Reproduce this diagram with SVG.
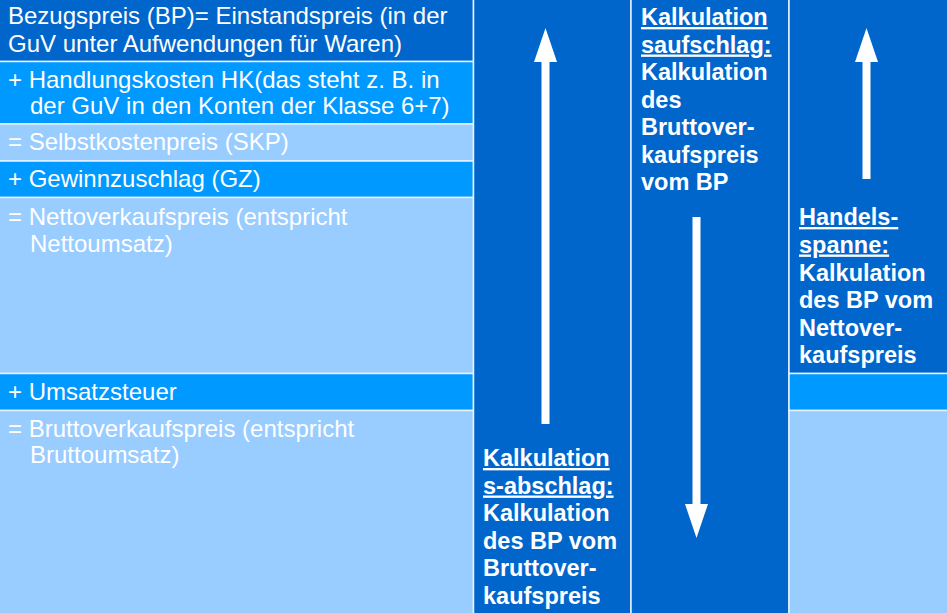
<svg xmlns="http://www.w3.org/2000/svg" width="947" height="613" viewBox="0 0 947 613">
<defs>
<style>
.dark{fill:#0066cc}
.mid{fill:#0099ff}
.light{fill:#99ccff}
.cell{stroke:#e6f2ff;stroke-width:1.5}
.t{font-family:"Liberation Sans",Arial,sans-serif;font-size:24px;fill:#ffffff}
.b{font-family:"Liberation Sans",Arial,sans-serif;font-size:23.5px;font-weight:bold;fill:#ffffff}
.u{text-decoration:underline}
.arrow{stroke:#ffffff;stroke-width:8;fill:none;marker-end:url(#head)}
</style>
<marker id="head" markerUnits="userSpaceOnUse" markerWidth="34" markerHeight="24" refX="0" refY="11.5" orient="auto">
<path d="M0,0 L34,11.5 L0,23 z" fill="#ffffff"/>
</marker>
</defs>
<rect x="0" y="0" width="947" height="613" fill="#0066cc"/>
<g id="bp">
<rect class="dark cell" x="-2" y="-2" width="475.5" height="63.5"/>
<text class="t" y="24"><tspan x="8">Bezugspreis (BP)= Einstandspreis (in der</tspan><tspan x="8" y="51.5">GuV unter Aufwendungen für Waren)</tspan></text>
</g>
<g id="hk">
<rect class="mid cell" x="-2" y="61.5" width="475.5" height="62.5"/>
<text class="t" y="87.5"><tspan x="8">+ Handlungskosten HK(das steht z. B. in</tspan><tspan x="30" y="114">der GuV in den Konten der Klasse 6+7)</tspan></text>
</g>
<g id="skp">
<rect class="light cell" x="-2" y="124" width="475.5" height="37"/>
<text class="t" x="8" y="150">= Selbstkostenpreis (SKP)</text>
</g>
<g id="gz">
<rect class="mid cell" x="-2" y="161" width="475.5" height="36.5"/>
<text class="t" x="8" y="186.5">+ Gewinnzuschlag (GZ)</text>
</g>
<g id="nvp">
<rect class="light cell" x="-2" y="197.5" width="475.5" height="176"/>
<text class="t" y="225"><tspan x="8">= Nettoverkaufspreis (entspricht</tspan><tspan x="30" y="251.5">Nettoumsatz)</tspan></text>
</g>
<g id="ust">
<rect class="mid cell" x="-2" y="373.5" width="475.5" height="37"/>
<text class="t" x="8" y="400">+ Umsatzsteuer</text>
</g>
<g id="bvp">
<rect class="light cell" x="-2" y="410.5" width="475.5" height="205"/>
<text class="t" y="436.5"><tspan x="8">= Bruttoverkaufspreis (entspricht</tspan><tspan x="30" y="463">Bruttoumsatz)</tspan></text>
</g>
<g id="abschlag">
<rect class="dark cell" x="473.5" y="-2" width="157.5" height="617"/>
<text class="b" x="483" y="466"><tspan class="u">Kalkulation</tspan><tspan class="u" x="483" y="493.5">s-abschlag:</tspan><tspan x="483" y="521">Kalkulation</tspan><tspan x="483" y="548.5">des BP vom</tspan><tspan x="483" y="576">Bruttover-</tspan><tspan x="483" y="603.5">kaufspreis</tspan></text>
</g>
<g id="aufschlag">
<rect class="dark cell" x="631" y="-2" width="158" height="617"/>
<text class="b" x="641" y="25"><tspan class="u">Kalkulation</tspan><tspan class="u" x="641" y="52.5">saufschlag:</tspan><tspan x="641" y="80">Kalkulation</tspan><tspan x="641" y="107.5">des</tspan><tspan x="641" y="135">Bruttover-</tspan><tspan x="641" y="162.5">kaufspreis</tspan><tspan x="641" y="190">vom BP</tspan></text>
</g>
<g id="handelsspanne">
<rect class="dark cell" x="789" y="-2" width="160" height="375.5"/>
<text class="b" x="799" y="225"><tspan class="u">Handels-</tspan><tspan class="u" x="799" y="252.5">spanne:</tspan><tspan x="799" y="280.5">Kalkulation</tspan><tspan x="799" y="308">des BP vom</tspan><tspan x="799" y="335.5">Nettover-</tspan><tspan x="799" y="363">kaufspreis</tspan></text>
</g>
<g id="col4-ust">
<rect class="mid cell" x="789" y="373.5" width="160" height="37"/>
</g>
<g id="col4-bvp">
<rect class="light cell" x="789" y="410.5" width="160" height="205"/>
</g>
<g id="connectors">
<line class="arrow" x1="545.5" y1="424" x2="545.5" y2="62"/>
<line class="arrow" x1="696.5" y1="217" x2="696.5" y2="504"/>
<line class="arrow" x1="866.5" y1="179" x2="866.5" y2="62"/>
</g>
</svg>
